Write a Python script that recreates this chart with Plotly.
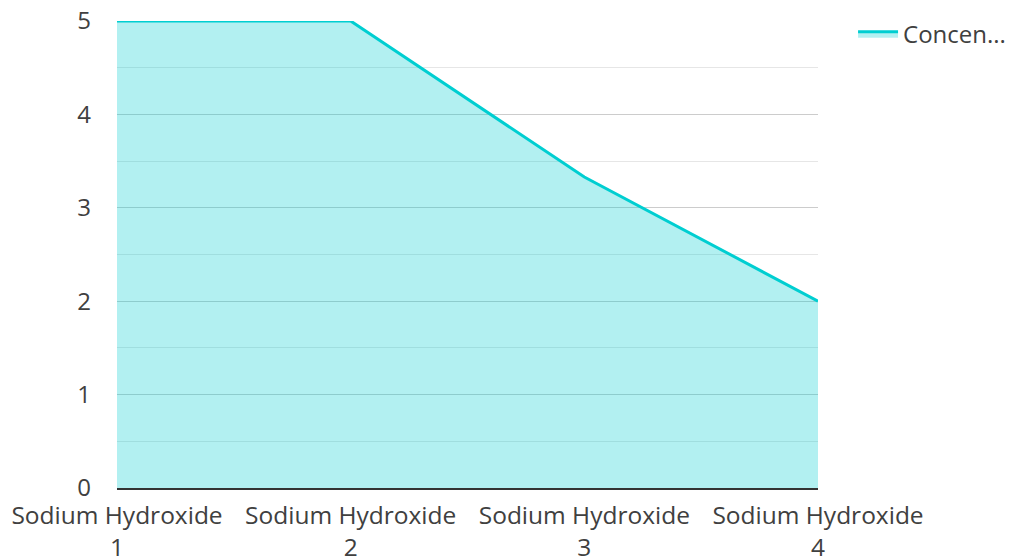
import plotly.graph_objects as go

categories = ["Sodium Hydroxide<br>1", "Sodium Hydroxide<br>2", "Sodium Hydroxide<br>3", "Sodium Hydroxide<br>4"]
values = [5, 5, 3.33, 2]
series_name = "Concen..."

fig = go.Figure()
fig.add_trace(go.Scatter(
    x=categories, y=values, name=series_name, mode="lines",
    line=dict(color="#00ced1", width=3),
    fill="tozeroy", fillcolor="rgba(0,206,209,0.3)",
))

font = "Open Sans, Noto Sans, sans-serif"
fig.update_layout(
    width=1010, height=560,
    margin=dict(l=117, r=192, t=21, b=72, autoexpand=False),
    paper_bgcolor="white", plot_bgcolor="white",
    font=dict(family=font, size=24, color="#404040"),
    showlegend=True,
    legend=dict(x=1.05, y=1.02, xanchor="left", yanchor="top", itemwidth=40,
                font=dict(size=24, color="#404040"), bgcolor="rgba(0,0,0,0)"),
    xaxis=dict(type="category", range=[0, 3], showgrid=False, showline=True,
               linecolor="#333333", linewidth=2, ticks="", tickfont=dict(size=24.5),
               ticklabelstandoff=5,
               zeroline=False, automargin=False),
    yaxis=dict(range=[0, 5], dtick=1, showgrid=True, gridcolor="#cccccc", gridwidth=1,
               minor=dict(dtick=0.5, showgrid=True, gridcolor="#e6e6e6", gridwidth=1),
               zeroline=False, showline=False, ticks="", ticklabelstandoff=25,
               tickfont=dict(size=24), automargin=False),
)

fig.write_html("out.html", config={"displayModeBar": False},
               post_script="document.body.style.margin='0';")
